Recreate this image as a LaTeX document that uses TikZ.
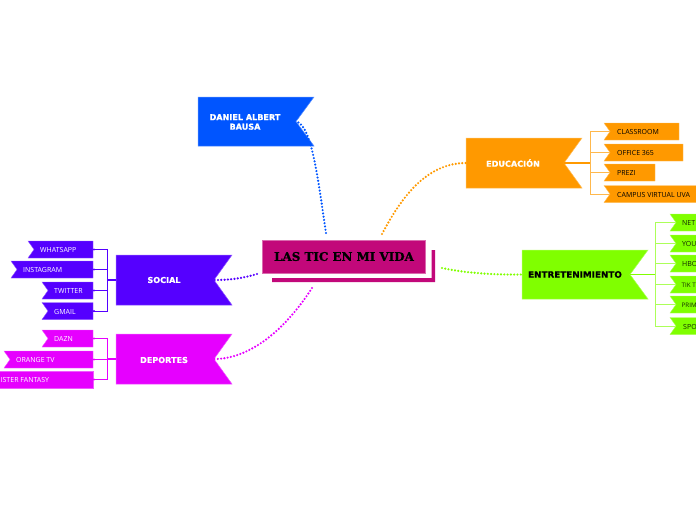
\documentclass[tikz,border=0pt]{standalone}
\usepackage{fontspec}
\setmainfont{Open Sans}
\newfontfamily\headfont[FakeBold=0.8]{DejaVu Sans Bold}
\newfontfamily\titlefont[FakeBold=0.8]{DejaVu Serif Bold}
\definecolor{cblue}{HTML}{0055FF}
\definecolor{cpurple}{HTML}{5500FF}
\definecolor{cpink}{HTML}{E600FF}
\definecolor{corange}{HTML}{FF9900}
\definecolor{cgreen}{HTML}{80FF00}
\definecolor{cmain}{HTML}{C2087A}
\tikzset{
  flag/.style={inner sep=0,align=center,font=\headfont\fontsize{8.1}{9.5}\selectfont},
  leaf/.style={inner sep=0,anchor=west,font=\fontsize{7}{8}\selectfont},
  dotline/.style={line width=2.4pt,line cap=round,dash pattern=on 0pt off 3.3pt},
  twig/.style={line width=0.8pt},
  trunk/.style={line width=1.6pt},
  tip/.style={circle,inner sep=0,minimum size=2.4pt}
}
% \bigflag{name}{colour}{x1}{x2}{ytop}{ybot}{tx,ty}{textcolour}{text}
\newcommand{\bigflag}[9]{%
  \path[fill=#2,draw=#2!65!white,line width=0.5pt] (#3,#5) -- (#4,#5) -- (#4-18,{(#5+#6)/2}) -- (#4,#6) -- (#3,#6) -- cycle;
  \coordinate (#1-notch) at (#4-18,{(#5+#6)/2});
  \coordinate (#1-west) at (#3,{(#5+#6)/2});
  \node[flag,text=#8] (#1) at (#7) {#9};}
% \leafflag{name}{colour}{x1}{x2}{ymid}{textx}{textcolour}{text}
\newcommand{\leafflag}[8]{%
  \path[fill=#2,draw=#2!65!white,line width=0.4pt] (#3,#5+8.5) -- (#4,#5+8.5) -- (#4,#5-8.5) -- (#3,#5-8.5) -- (#3+6,#5) -- cycle;
  \coordinate (#1-l) at (#3+6,#5);
  \coordinate (#1-r) at (#4,#5);
  \node[leaf,text=#7] (#1) at (#6,#5+0.5) {#8};}
\begin{document}
\begin{tikzpicture}[x=1pt,y=-1pt]
\useasboundingbox (0,0) rectangle (696,520);

% central node
\fill[cmain] (272,278) -- (431.5,278) -- (431.5,250) -- (435,250) -- (435,282) -- (272,282) -- cycle;
\node[fill=cmain,draw=cmain!60!white,line width=0.6pt,minimum width=163.5pt,minimum height=33pt,inner sep=0] (center) at (344,256.5) {};
\node[inner sep=0,text=black,font=\titlefont\fontsize{11.9}{14}\selectfont] (title) at (344,256.5) {LAS TIC EN MI VIDA};
\coordinate (c-blue) at (326,233);
\coordinate (c-orange) at (382,234);
\coordinate (c-green) at (442,268);
\coordinate (c-purple) at (257,274);
\coordinate (c-pink) at (312,288);

% main flags
\bigflag{daniel}{cblue}{198}{314}{97}{146}{245,122}{white}{DANIEL ALBERT\\BAUSA}
\bigflag{social}{cpurple}{116}{232}{255}{305}{164,280}{white}{SOCIAL}
\bigflag{deportes}{cpink}{116}{232}{334}{384}{164,360}{white}{DEPORTES}
\bigflag{educacion}{corange}{466}{582}{138}{188}{513,163}{white}{EDUCACIÓN}
\bigflag{entre}{cgreen}{522}{648}{250}{299}{575,274.5}{black}{\fontsize{8.8}{10}\selectfont ENTRETENIMIENTO}

% dotted connectors
\draw[dotline,cblue] (c-blue) .. controls (318,180) and (312,125) .. (daniel-notch);
\draw[dotline,corange] (c-orange) .. controls (400,200) and (425,163) .. (educacion-west);
\draw[dotline,cgreen] (c-green) .. controls (465,273) and (495,275) .. (entre-west);
\draw[dotline,cpurple] (c-purple) .. controls (240,279) and (228,280) .. (social-notch);
\draw[dotline,cpink] (c-pink) .. controls (285,330) and (250,359) .. (deportes-notch);

% left leaves
\leafflag{whatsapp}{cpurple}{28}{93}{249.5}{40}{white}{WHATSAPP}
\leafflag{instagram}{cpurple}{11}{93}{269.5}{23}{white}{INSTAGRAM}
\leafflag{twitter}{cpurple}{42}{93}{290.5}{54}{white}{TWITTER}
\leafflag{gmail}{cpurple}{42}{93}{311}{54}{white}{GMAIL}
\leafflag{dazn}{cpink}{42}{93}{338.5}{54}{white}{DAZN}
\leafflag{orange}{cpink}{4}{93}{359.5}{16}{white}{ORANGE TV}
\path[fill=cpink,draw=cpink!65!white,line width=0.4pt] (-2,371.5) -- (93,371.5) -- (93,388) -- (-2,388) -- cycle;
\coordinate (mister-r) at (93,379.5);
\node[leaf,text=white] (mister) at (0.5,380) {ISTER FANTASY};

% left tree: social
\coordinate (s-j) at (107,280);
\draw[trunk,draw=cpurple] (social-west) -- (s-j);
\draw[twig,draw=cpurple] (s-j) |- (whatsapp-r);
\draw[twig,draw=cpurple] (s-j) |- (instagram-r);
\draw[twig,draw=cpurple] (s-j) |- (twitter-r);
\draw[twig,draw=cpurple] (s-j) |- (gmail-r);
\node[tip,fill=cpurple] (t1) at ([xshift=1pt]whatsapp-r) {};
\node[tip,fill=cpurple] (t2) at ([xshift=1pt]instagram-r) {};
\node[tip,fill=cpurple] (t3) at ([xshift=1pt]twitter-r) {};
\node[tip,fill=cpurple] (t4) at ([xshift=1pt]gmail-r) {};
% left tree: deportes
\coordinate (d-j) at (107,359);
\draw[trunk,draw=cpink] (deportes-west) -- (d-j);
\draw[twig,draw=cpink] (d-j) |- (dazn-r);
\draw[twig,draw=cpink] (d-j) |- (orange-r);
\draw[twig,draw=cpink] (d-j) |- (mister-r);
\node[tip,fill=cpink] (t5) at ([xshift=1pt]dazn-r) {};
\node[tip,fill=cpink] (t6) at ([xshift=1pt]orange-r) {};
\node[tip,fill=cpink] (t7) at ([xshift=1pt]mister-r) {};

% right leaves: educacion
\leafflag{classroom}{corange}{604}{679}{131.5}{617}{black}{CLASSROOM}
\leafflag{office}{corange}{604}{683}{152.5}{617}{black}{OFFICE 365}
\leafflag{prezi}{corange}{604}{655}{172.5}{617}{black}{PREZI}
\leafflag{campus}{corange}{604}{698}{194}{617}{black}{CAMPUS VIRTUAL UVA}
\coordinate (e-j) at (590,163);
\draw[trunk,corange] (educacion-notch) -- (e-j);
\foreach \n in {classroom,office,prezi,campus}{
  \draw[twig,line width=1pt,corange!70!white] (e-j) |- (\n-l);
}

% right leaves: entretenimiento
\leafflag{net}{cgreen}{670}{698}{222.5}{682}{black!85!cgreen}{NET}
\leafflag{you}{cgreen}{670}{698}{243.5}{682}{black!85!cgreen}{YOU}
\leafflag{hbo}{cgreen}{670}{698}{263.5}{682}{black!85!cgreen}{HBO}
\leafflag{tik}{cgreen}{670}{698}{284.5}{681.5}{black!85!cgreen}{\fontsize{6.2}{8}\selectfont TIK T}
\leafflag{prim}{cgreen}{670}{698}{304.5}{681.5}{black!85!cgreen}{\fontsize{6.2}{8}\selectfont PRIM}
\leafflag{spo}{cgreen}{670}{698}{326}{683}{black!85!cgreen}{SPO}
\coordinate (g-j) at (655,274.5);
\draw[trunk,cgreen] (entre-notch) -- (g-j);
\foreach \n in {net,you,hbo,tik,prim,spo}{
  \draw[twig,line width=1pt,cgreen!65!white] (g-j) |- (\n-l);
}
\end{tikzpicture}
\end{document}
